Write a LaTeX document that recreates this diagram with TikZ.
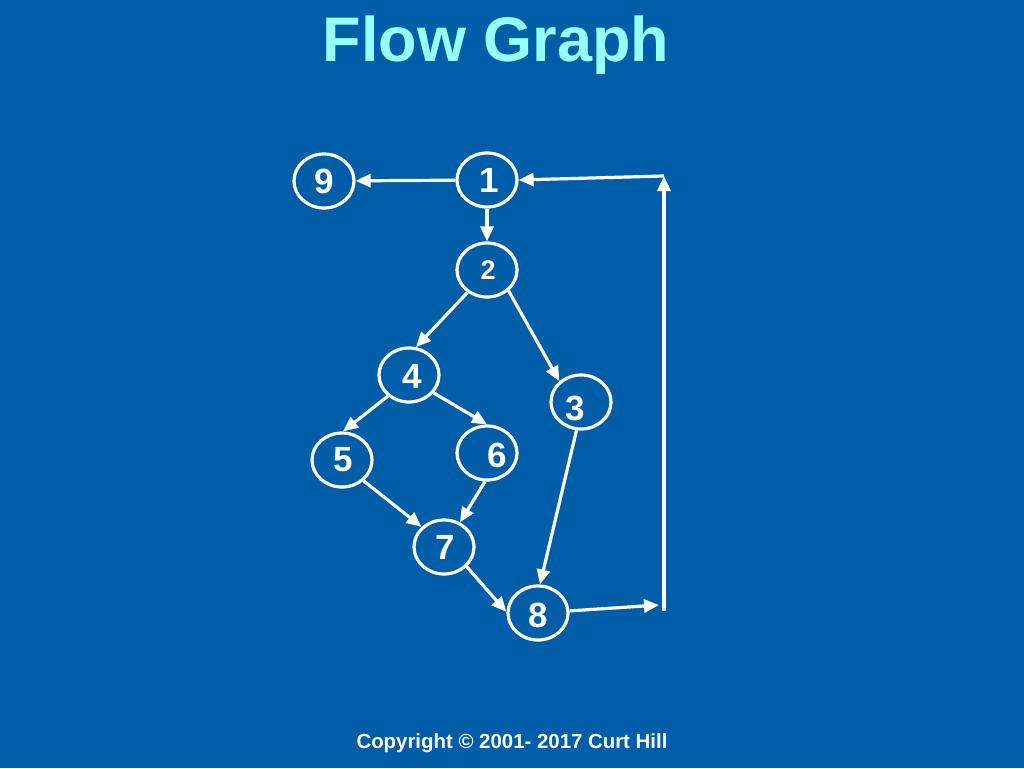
\documentclass[tikz,border=0pt]{standalone}
\usepackage{fontspec}
\setmainfont{Liberation Sans}
\usetikzlibrary{shapes.geometric,arrows.meta}
\definecolor{bgblue}{RGB}{0,93,168}
\definecolor{titlecyan}{RGB}{150,255,255}
\tikzset{
  vtx/.style={ellipse,draw=white,line width=3.2pt,minimum width=60pt,minimum height=54pt,inner sep=0pt},
  num/.style={text=white,font=\fontsize{35}{35}\selectfont\bfseries,inner sep=0pt},
  numsmall/.style={text=white,font=\fontsize{27}{27}\selectfont\bfseries,inner sep=0pt},
  arr/.style={draw=white,line width=3.2pt,-{Triangle[length=15pt,width=13pt]}}
}
\begin{document}
\begin{tikzpicture}[x=1pt,y=-1pt]
\fill[bgblue] (0,0) rectangle (1024,768);
\useasboundingbox (0,0) rectangle (1024,768);
\node[text=titlecyan,font=\fontsize{63}{63}\selectfont\bfseries,inner sep=0pt] (title) at (496,45) {Flow Graph};
% vertices
\node[vtx] (n1) at (487,180) {};
\node[num] (t1) at (489,180) {1};
\node[vtx] (n9) at (324,181) {};
\node[num] (t9) at (324,181) {9};
\node[vtx] (n2) at (487,270) {};
\node[numsmall] (t2) at (488,270) {2};
\node[vtx] (n4) at (409,375) {};
\node[num] (t4) at (412,376) {4};
\node[vtx] (n3) at (581,402) {};
\node[num] (t3) at (575,408) {3};
\node[vtx] (n5) at (342,460) {};
\node[num] (t5) at (343,460) {5};
\node[vtx] (n6) at (487,453) {};
\node[num] (t6) at (497,455) {6};
\node[vtx] (n7) at (444,547) {};
\node[num] (t7) at (445,547) {7};
\node[vtx] (n8) at (538,613) {};
\node[num] (t8) at (538,615) {8};
% loop-back corners
\coordinate (ca) at (659,605);
\coordinate (cb) at (664,611);
\coordinate (ct) at (664,176);
% edges
\draw[arr] (n1) -- (n9);
\draw[arr] (n1) -- (n2);
\draw[arr] (n2.229) -- (n4.76);
\draw[arr] (n2.316) -- (n3.136);
\draw[arr] (n4.225) -- (n5.88);
\draw[arr] (n4.324) -- (n6.90);
\draw[arr] (n5.316) -- (n7.138);
\draw[arr] (n6.266) -- (n7.57);
\draw[arr] (n3.261) -- (n8.86);
\draw[arr] (n7.319) -- (n8.178);
\draw[arr] (n8) -- (ca);
\draw[arr] (cb) -- (ct);
\draw[arr] (ct) -- (n1.east);
\node[text=white,font=\fontsize{20.4}{21}\selectfont\bfseries,inner sep=0pt] (copy) at (512,743) {Copyright © 2001- 2017 Curt Hill};
\end{tikzpicture}
\end{document}
